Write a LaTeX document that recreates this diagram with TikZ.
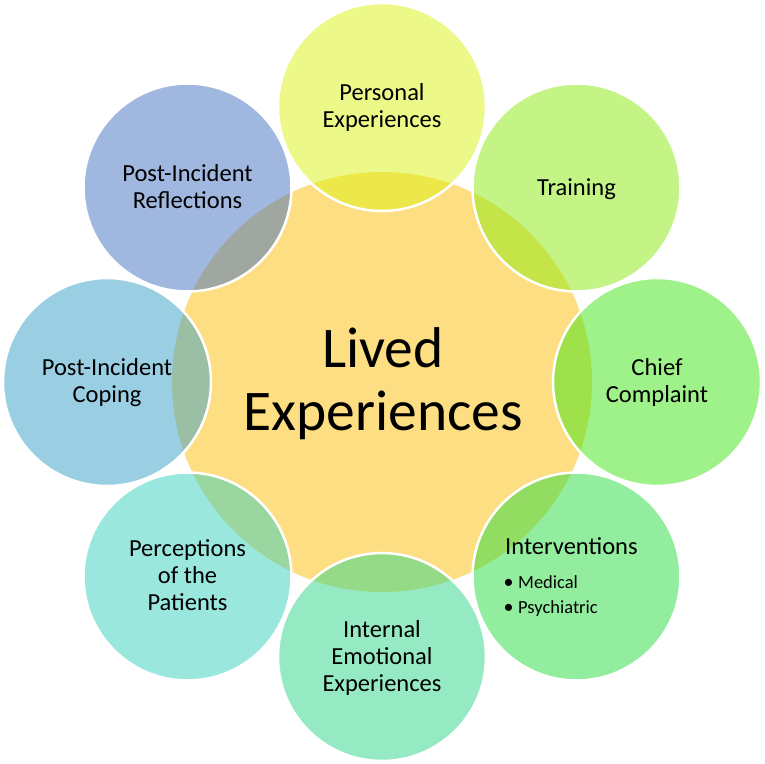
\documentclass[tikz,border=0pt]{standalone}
\usepackage{fontspec}
\setmainfont{Carlito}
\definecolor{hubc}{RGB}{254,222,130}
\definecolor{cpe}{RGB}{219,243,17}
\definecolor{ctr}{RGB}{139,235,15}
\definecolor{ccc}{RGB}{65,229,21}
\definecolor{civ}{RGB}{39,221,65}
\definecolor{cie}{RGB}{45,215,139}
\definecolor{cpp}{RGB}{55,209,191}
\definecolor{cpc}{RGB}{55,161,201}
\definecolor{cpr}{RGB}{67,113,193}
\newcommand\mylines[1]{\begin{tabular}[t]{@{}c@{}}#1\end{tabular}}
\begin{document}
\begin{tikzpicture}[x=1pt,y=-1pt,
  bubble/.style={circle, minimum size=208pt, inner sep=0pt, draw=white, line width=2.5pt, fill opacity=0.5, draw opacity=1},
  lbl/.style={font=\fontsize{24.5}{27}\selectfont, anchor=base, inner sep=0pt},
  sublbl/.style={font=\fontsize{18.5}{25}\selectfont, anchor=base, inner sep=0pt},
  bul/.style={font=\fontsize{20}{25}\selectfont, anchor=base, inner sep=0pt}]
\useasboundingbox (0,0) rectangle (764,764);
\fill[white] (0,0) rectangle (764,764);
\node[circle, minimum size=420pt, inner sep=0pt, fill=hubc] (hub) at (382,382) {};
\node[bubble, fill=cpe] (pe) at (382,107) {};
\node[bubble, fill=ctr] (tr) at (576.5,187.5) {};
\node[bubble, fill=ccc] (cc) at (657,382) {};
\node[bubble, fill=civ] (iv) at (576.5,576.5) {};
\node[bubble, fill=cie] (ie) at (382,657) {};
\node[bubble, fill=cpp] (pp) at (187.5,576.5) {};
\node[bubble, fill=cpc] (pc) at (107,382) {};
\node[bubble, fill=cpr] (pr) at (187.5,187.5) {};
% labels
\node[font=\fontsize{57.5}{63}\selectfont, anchor=base, inner sep=0pt] (hubt) at (383,367) {\mylines{Lived\\Experiences}};
\node[lbl] (pet) at (382,100) {\mylines{Personal\\Experiences}};
\node[lbl] (trt) at (576.5,195) {Training};
\node[lbl] (cct) at (657,375) {\mylines{Chief\\Complaint}};
\node[lbl, anchor=base west] (ivt) at (505,554) {Interventions};
\node[bul] (ivb1) at (508.5,588.5) {\textbullet};
\node[sublbl, anchor=base west] (ivm) at (518,588) {Medical};
\node[bul] (ivb2) at (508.5,613.5) {\textbullet};
\node[sublbl, anchor=base west] (ivp) at (518,613) {Psychiatric};
\node[lbl] (iet) at (382,637) {\mylines{Internal\\Emotional\\Experiences}};
\node[lbl] (ppt) at (187.5,556) {\mylines{Perceptions\\of the\\Patients}};
\node[lbl] (pct) at (107,375) {\mylines{Post-Incident\\Coping}};
\node[lbl] (prt) at (187.5,181) {\mylines{Post-Incident\\Reflections}};
\end{tikzpicture}
\end{document}
